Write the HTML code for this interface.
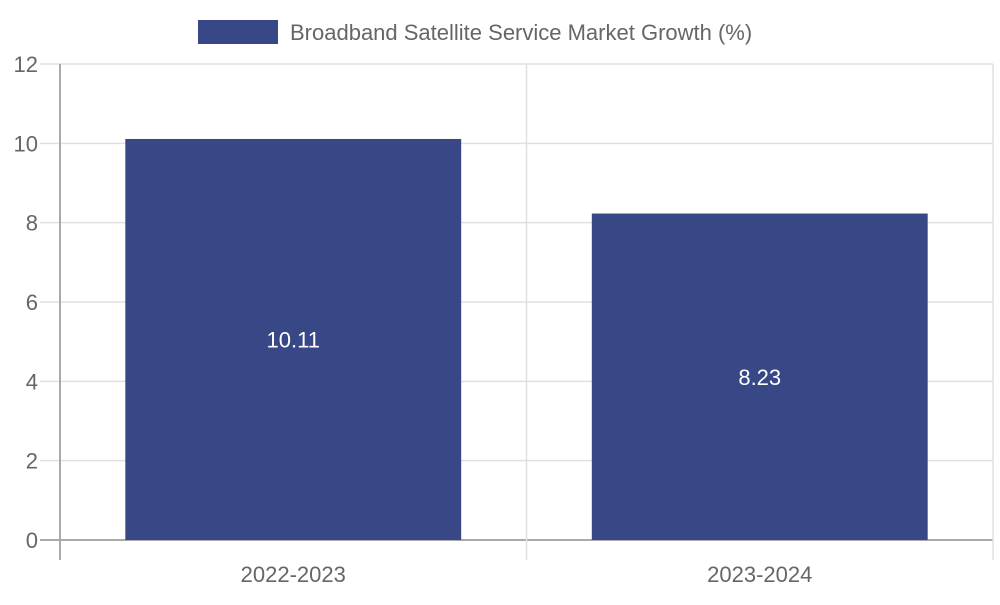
<!DOCTYPE html>
<html><head><meta charset="utf-8"><style>
body{margin:0;background:#fff;}
text{font-family:"Liberation Sans",sans-serif;}
</style></head><body>
<svg id="chart" width="1000" height="600">
<rect x="198" y="20" width="80" height="24" fill="#384785"/>
<text x="290" y="40" font-size="22" fill="#666">Broadband Satellite Service Market Growth (%)</text>
<g id="grid"></g><g id="bars"></g>
</svg>
<script>
const categories=["2022-2023","2023-2024"];
const values=[10.11,8.23];
const yTicks=[0,2,4,6,8,10,12];
const L=60,R=993,T=64,B=540,yMax=12;
const y=v=>B-(v/yMax)*(B-T);
const bw=(R-L)/categories.length;
const x=i=>L+i*bw;
const NS="http://www.w3.org/2000/svg";
const grid=document.getElementById('grid'),bars=document.getElementById('bars');
function mk(tag,at,p){const e=document.createElementNS(NS,tag);for(const k in at)e.setAttribute(k,at[k]);p.appendChild(e);return e;}
yTicks.forEach(t=>{
 const l=mk('line',{x1:40,x2:R,y1:y(t),y2:y(t),stroke:t===0?'#aaa':'#e0e0e0','stroke-width':t===0?2:1.5},grid);
 
 
 const tx=mk('text',{x:38,y:y(t)+8,'text-anchor':'end','font-size':22,fill:'#666'},grid);
 tx.textContent=t;
 
 
});
for(let i=0;i<=categories.length;i++){
 const l=mk('line',{x1:x(i),x2:x(i),y1:T,y2:560,stroke:i===0?'#aaa':'#e0e0e0','stroke-width':i===0?2:1.5},grid);
 
 
}
categories.forEach((c,i)=>{
 const cx=x(i)+bw/2,w=bw*0.72;
 const r=mk('rect',{x:cx-w/2,y:y(values[i]),width:w,height:B-y(values[i]),fill:'#384785'},bars);
 
 
 const v=mk('text',{x:cx,y:(y(values[i])+B)/2+8,'text-anchor':'middle','font-size':22,fill:'#fff'},bars);
 v.textContent=values[i];
 
 
 const t=mk('text',{x:cx,y:582,'text-anchor':'middle','font-size':22,fill:'#666'},bars);
 t.textContent=c;
 
 
});
</script>
</body></html>
